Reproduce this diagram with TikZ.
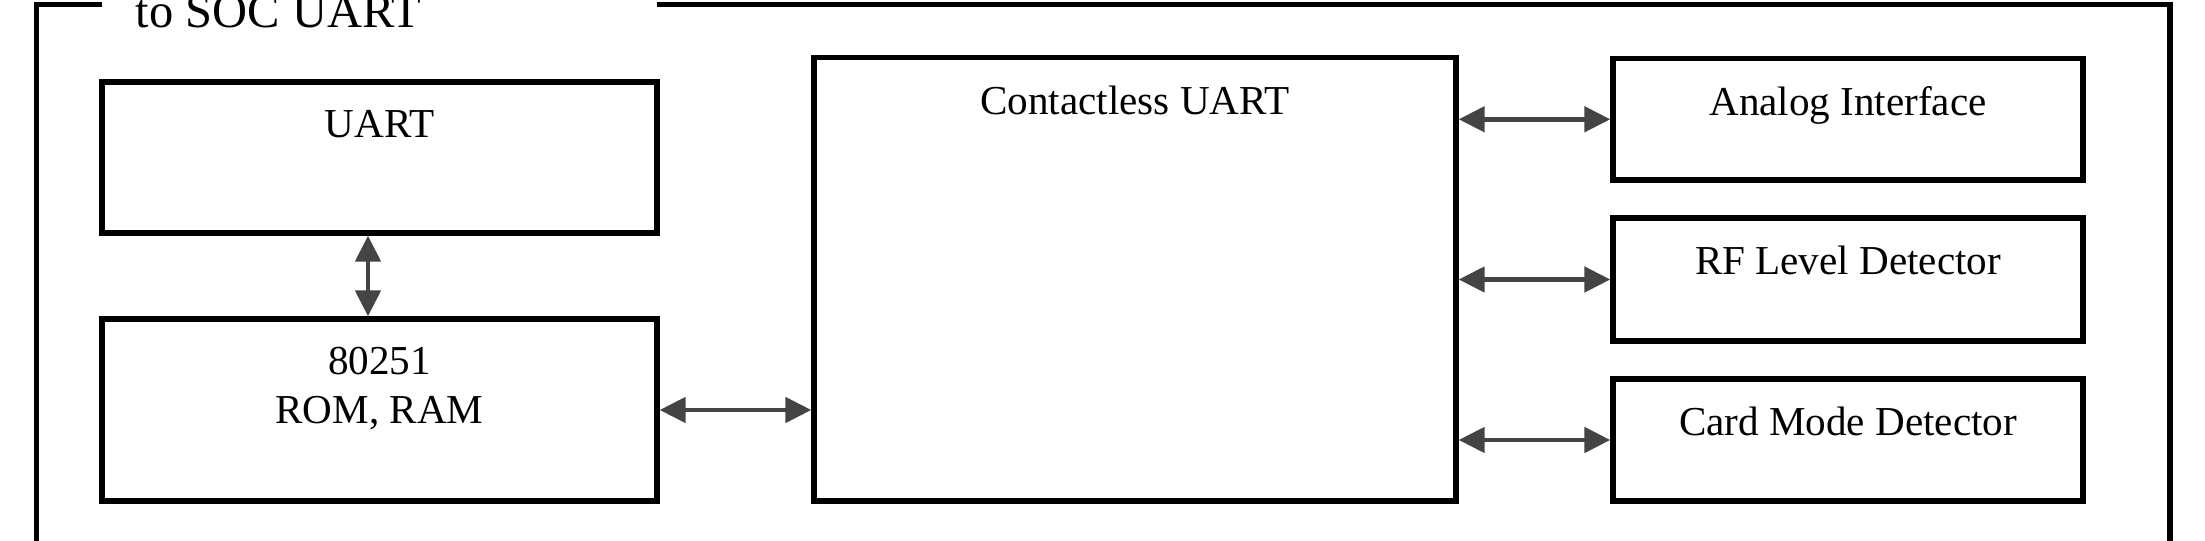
\documentclass[tikz,border=0pt]{standalone}
\usepackage{fontspec}
\setmainfont{Liberation Serif}
\usetikzlibrary{arrows.meta}
\definecolor{arrowgray}{HTML}{444444}

\begin{document}
\begin{tikzpicture}[
  blk/.style={draw, line width=1.5pt, minimum width=#1, inner sep=0pt},
  blklabel/.style={anchor=north, yshift=-0.30cm, inner sep=0pt, align=center,
    font=\fontsize{11.7}{14}\selectfont},
  link/.style={{Triangle[length=0.26cm,width=0.25cm]}-{Triangle[length=0.26cm,width=0.25cm]},
    draw=arrowgray, line width=1.35pt}
]
\useasboundingbox (0,0) rectangle (22.05,-5.41);

% outer frame
\draw[line width=1.5pt] (1.02,-0.048) -| (0.367,-5.41);
\draw[line width=1.5pt] (6.57,-0.048) -| (21.70,-5.41);
\node[anchor=base, inner sep=0pt, font=\fontsize{13.8}{16}\selectfont] (title) at (2.785,-0.28) {to SOC UART};

% left column
\node[blk=5.55cm, minimum height=1.51cm, label={[blklabel]north:UART}] (uart) at (3.795,-1.575) {};
\node[blk=5.55cm, minimum height=1.82cm, label={[blklabel]north:{80251\\ROM, RAM}}] (cpu) at (3.795,-4.10) {};

% middle
\node[blk=6.42cm, minimum height=4.434cm, label={[blklabel]north:Contactless UART}] (cul) at (11.35,-2.793) {};

% right column
\node[blk=4.70cm, minimum height=1.214cm, label={[blklabel]north:Analog Interface}] (ana) at (18.48,-1.193) {};
\node[blk=4.70cm, minimum height=1.23cm, label={[blklabel]north:RF Level Detector}] (rfl) at (18.48,-2.795) {};
\node[blk=4.70cm, minimum height=1.22cm, label={[blklabel]north:Card Mode Detector}] (cmd) at (18.48,-4.40) {};

\draw[link] ([xshift=-0.115cm]uart.south) -- ([xshift=-0.115cm]cpu.north);
\draw[link] (cpu.east) -- (cpu.east -| cul.west);

\draw[link] (cul.east |- ana.west) -- (ana.west);
\draw[link] (cul.east |- rfl.west) -- (rfl.west);
\draw[link] (cul.east |- cmd.west) -- (cmd.west);

\end{tikzpicture}
\end{document}
